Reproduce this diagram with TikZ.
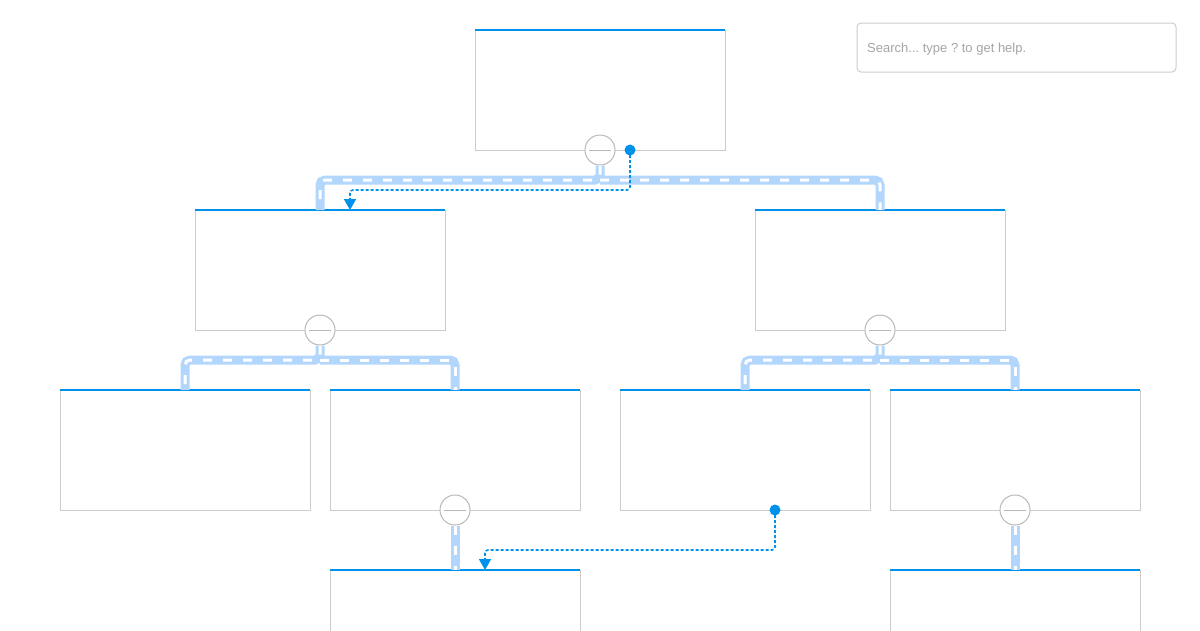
\documentclass[tikz,border=0pt]{standalone}
\usepackage{fontspec}
\setmainfont{Liberation Sans}
\usetikzlibrary{arrows.meta}
\definecolor{topblue}{RGB}{0,145,234}
\definecolor{boxgray}{RGB}{204,204,204}
\definecolor{circgray}{RGB}{185,185,185}
\definecolor{linkblue}{RGB}{178,214,252}
\definecolor{hintgray}{RGB}{165,165,165}
\tikzset{
  orgbox/.style={draw=boxgray, line width=1pt, fill=white, minimum width=250pt, minimum height=120pt, inner sep=0pt, outer sep=0pt},
  topline/.style={draw=topblue, line width=2pt},
  linkbase/.style={draw=linkblue, line width=9pt, rounded corners=5pt},
  linkdash/.style={draw=white, line width=3pt, dash pattern=on 9pt off 11pt, rounded corners=5pt},
  togglebox/.style={circle, draw=circgray, fill=white, line width=1pt, minimum size=30pt, inner sep=0pt},
  dotlink/.style={draw=topblue, line width=1.6pt, dash pattern=on 3pt off 2pt, rounded corners=3pt, -{Triangle[length=11pt,width=12pt]}},
  dotstart/.style={circle, fill=topblue, minimum size=11pt, inner sep=0pt},
}
\begin{document}
\frenchspacing
\begin{tikzpicture}[x=1pt,y=-1pt]
\useasboundingbox (0,0) rectangle (1200,630);
\clip (0,0) rectangle (1200,630);
% nodes
\node[orgbox] (root) at (600,90) {};
\node[orgbox] (a) at (320,270) {};
\node[orgbox] (b) at (880,270) {};
\node[orgbox] (a1) at (185,450) {};
\node[orgbox] (a2) at (455,450) {};
\node[orgbox] (b1) at (745,450) {};
\node[orgbox] (b2) at (1015,450) {};
\node[orgbox] (a2x) at (455,630) {};
\node[orgbox] (b2x) at (1015,630) {};
\foreach \n in {root,a,b,a1,a2,b1,b2,a2x,b2x}{
  \draw[topline] (\n.north west) -- (\n.north east);
}
% toggles
\node[togglebox] (troot) at (root.south) {};
\node[togglebox] (ta) at (a.south) {};
\node[togglebox] (tb) at (b.south) {};
\node[togglebox] (ta2) at (a2.south) {};
\node[togglebox] (tb2) at (b2.south) {};
% coordinates for links
\coordinate (j0) at (600,180);
\coordinate (j1) at (320,360);
\coordinate (j2) at (880,360);
% links
\foreach \s in {linkbase,linkdash}{
  \draw[\s] (troot.south) -- (j0) -| (a.north);
  \draw[\s] (j0) -| (b.north);
  \draw[\s] (ta.south) -- (j1) -| (a1.north);
  \draw[\s] (j1) -| (a2.north);
  \draw[\s] (tb.south) -- (j2) -| (b1.north);
  \draw[\s] (j2) -| (b2.north);
  \draw[\s] (ta2.south) -- (a2x.north);
  \draw[\s] (tb2.south) -- (b2x.north);
}
% minus signs in toggles
\foreach \t in {troot,ta,tb,ta2,tb2}{
  \draw[circgray, line width=1pt] ([xshift=-11pt]\t.center) -- ([xshift=11pt]\t.center);
}
% dotted links
\node[dotstart] (d1) at (630,150) {};
\node[dotstart] (d2) at (775,510) {};
\coordinate (e1) at (350,210);
\coordinate (e2) at (485,570);
\draw[dotlink] (d1.center) -- (630,190) -| (e1);
\draw[dotlink] (d2.center) -- (775,550) -| (e2);
% search box
\node[draw=boxgray, line width=1pt, rounded corners=4pt, minimum width=319pt, minimum height=49pt, inner sep=0pt, fill=white] (search) at (1016.5,47.5) {};
\node[anchor=base west, inner sep=0pt, text=hintgray, font=\fontsize{13}{15}\selectfont] (hint) at (867,52.5) {Search... type ? to get help.};
\end{tikzpicture}
\end{document}
